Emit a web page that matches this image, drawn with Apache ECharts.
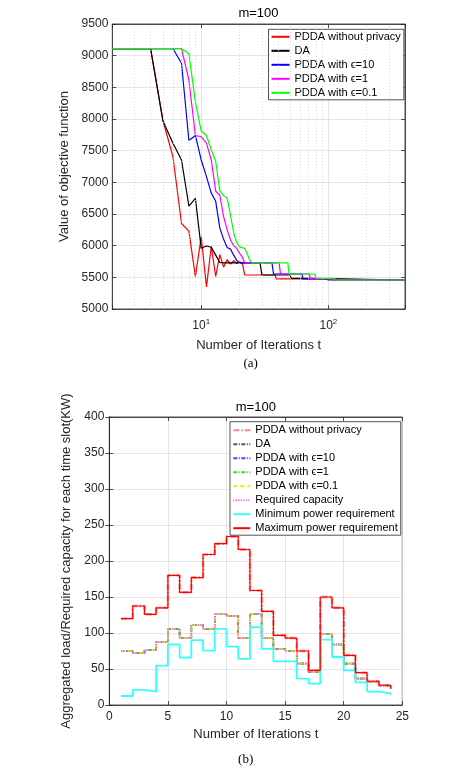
<!DOCTYPE html>
<html>
<head>
<meta charset="utf-8">
<script src="https://cdn.jsdelivr.net/npm/echarts@6/dist/echarts.min.js"></script>
<style>
html, body { margin: 0; padding: 0; background: #fff; }
#chartA { position: absolute; left: 0; top: 0; width: 470px; height: 380px; }
#chartB { position: absolute; left: 0; top: 380px; width: 470px; height: 399px; }
</style>
</head>
<body>
<div id="chartA"></div>
<div id="chartB"></div>
<script>
// ---- (a) objective value vs. iterations (log x) ----
var iterRed = [2,3,4,5,6,7,8,9,10,11,12,13,14,15,16,17,18,19,20,21,22,38,39,61,62,400];
var objRed  = [9110,9110,9110,7980,7400,6350,6230,5510,6140,5350,5990,5515,5860,5660,5780,5710,5765,5720,5740,5728,5537,5537,5475,5475,5458,5458];

var iterDA = [2,3,4,5,6,7,8,9,10,11,12,13,14,15,29,30,50,51,73,74,400];
var objDA  = [9110,9110,9110,7970,7616,7353,6626,6747,5958,5995,5975,5850,5735,5728,5728,5537,5537,5484,5484,5458,5458];

var iterEps10 = [2,3,4,5,6,7,8,9,10,11,12,13,14,15,16,17,18,19,20,36,37,62,63,95,100,400];
var objEps10  = [9110,9110,9110,9110,9110,8880,7660,7740,7353,7090,6830,6700,6280,6100,5970,5945,5850,5770,5728,5728,5553,5553,5475,5475,5458,5458];

var iterEps1 = [2,3,4,5,6,7,8,9,10,11,12,13,14,15,16,17,18,19,20,21,22,41,42,71,72,105,110,400];
var objEps1  = [9110,9110,9110,9110,9110,9110,8616,7740,7720,7620,7353,6860,6800,6460,6250,6090,6000,5958,5880,5826,5728,5728,5553,5553,5475,5475,5458,5458];

var iterEps01 = [2,3,4,5,6,7,8,9,10,11,12,13,14,15,16,17,18,19,20,21,22,23,24,25,48,49,78,80,110,115,400];
var objEps01  = [9110,9110,9110,9110,9110,9110,9030,8270,7810,7740,7510,7330,6870,6790,6750,6480,6200,6050,5984,5970,5958,5870,5780,5728,5728,5553,5553,5484,5484,5458,5458];

var minorTicksA = [3,4,5,6,7,8,9,20,30,40,50,60,70,80,90,200,300];

// ---- (b) load per time slot ----
var slots = [1,2,3,4,5,6,7,8,9,10,11,12,13,14,15,16,17,18,19,20,21,22,23,24];
var noPrivacyLoad = [120,137.5,126,135,180,156.5,177,209,224,234,216,159,130,96.8,93,75,48,150,135,69,45,33,27.4,22.7];
var aggLoad  = [75,72,76,87.5,105.6,93,111,105.6,126.5,123.6,93,126.5,93,78,75,57.4,46,99,84,57.4,36.6,31.5,27,22.7];
var minPower = [12.5,21,18.5,54.7,84,66,90,75.5,105.6,81,64,108,78,60.7,60.7,36.6,29.7,90.8,66.7,48,31.5,18.6,16,13.5];
var maxPower = [120,137.5,126,135,180,156.5,177,209,224,234,216,159,130,96.8,93,75,48,150,135,69,45,33,27.4,22.7];

var font = '"Liberation Sans", Arial, sans-serif';
var ink = '#262626';
var gridColor = '#dedede';

function pairs(xs, ys) {
    return xs.map(function (x, i) { return [x, ys[i]]; });
}

function plain(v) { return String(v); }

function txt(text, x, y, size, family) {
    return {
        type: 'text', x: x, y: y, silent: true,
        style: {
            text: text, font: size + 'px ' + family, fill: '#000',
            textAlign: 'center', textVerticalAlign: 'middle',
            align: 'center', verticalAlign: 'middle'
        }
    };
}

function frameAxes(base, isX) {
    // mirrored axis on the opposite side, ticks only
    return Object.assign({}, base, {
        position: isX ? 'top' : 'right',
        name: '',
        axisLabel: { show: false },
        splitLine: { show: false }
    });
}

function line(name, data, color, width, dash) {
    return {
        name: name, type: 'line', data: data,
        symbol: 'none', showSymbol: false,
        lineStyle: { color: color, width: width, type: dash || 'solid' },
        itemStyle: { color: 'rgba(0,0,0,0)', borderWidth: 0 },
        emphasis: { disabled: true }
    };
}

function legendBox(left, top, pad, iw, names) {
    return {
        orient: 'vertical', left: left, top: top,
        padding: pad, itemGap: 2, itemWidth: iw, itemHeight: 8,
        backgroundColor: '#fff', borderColor: ink, borderWidth: 0.8, borderRadius: 0,
        selectedMode: false,
        itemStyle: { color: 'rgba(0,0,0,0)', borderWidth: 0, opacity: 0 },
        textStyle: { color: '#000', fontSize: 11, lineHeight: 12, fontFamily: font },
        data: names
    };
}

// ================= chart (a) =================
var chartA = echarts.init(document.getElementById('chartA'));

var xA = {
    type: 'log', logBase: 10, min: 2, max: 400,
    axisLine: { onZero: false, lineStyle: { color: ink, width: 0.8 } },
    axisTick: { inside: true, length: 4, lineStyle: { color: ink, width: 0.8 } },
    axisLabel: {
        color: ink, fontSize: 12, lineHeight: 16, margin: 9, fontFamily: font,
        formatter: function (v) {
            var e = Math.log(v) / Math.LN10;
            if (Math.abs(e - Math.round(e)) < 1e-6) return '10{s|' + Math.round(e) + '}';
            return '';
        },
        rich: { s: { fontSize: 8, lineHeight: 8, verticalAlign: 'top', color: ink, fontFamily: font } }
    },
    splitLine: { show: true, lineStyle: { color: gridColor, width: 0.8 } },
    name: 'Number of Iterations t', nameLocation: 'middle', nameGap: 26,
    nameTextStyle: { color: ink, fontSize: 13, fontFamily: font }
};
var yA = {
    type: 'value', min: 5000, max: 9500, interval: 500,
    axisLine: { show: true, lineStyle: { color: ink, width: 0.8 } },
    axisTick: { show: true, inside: true, length: 4, lineStyle: { color: ink, width: 0.8 } },
    axisLabel: { color: ink, fontSize: 12, margin: 4, fontFamily: font, formatter: plain },
    splitLine: { show: true, lineStyle: { color: gridColor, width: 0.8 } },
    name: 'Value of objective function', nameLocation: 'middle', nameGap: 34,
    nameTextStyle: { color: ink, fontSize: 13, fontFamily: font }
};

var seriesA = [
    line('PDDA without privacy', pairs(iterRed, objRed), '#ff0000', 1.2),
    line('DA', pairs(iterDA, objDA), '#000000', 1.2),
    line('PDDA with \u03f5=10', pairs(iterEps10, objEps10), '#0000ff', 1.2),
    line('PDDA with \u03f5=1', pairs(iterEps1, objEps1), '#ff00ff', 1.2),
    line('PDDA with \u03f5=0.1', pairs(iterEps01, objEps01), '#00ff00', 1.2)
];
seriesA[0].markLine = {
    silent: true, symbol: 'none', animation: false,
    label: { show: false },
    lineStyle: { color: '#cfcfcf', width: 0.8, type: [1, 2] },
    data: minorTicksA.map(function (v) { return { xAxis: v }; })
};

chartA.setOption({
    animation: false,
    textStyle: { fontFamily: font },
    grid: {
        left: 112.3, top: 24, width: 292.7, height: 285,
        show: true, borderColor: ink, borderWidth: 0.8, backgroundColor: '#fff'
    },
    xAxis: [xA, frameAxes(xA, true)],
    yAxis: [yA, frameAxes(yA, false)],
    legend: legendBox(268.5, 29.3, [1.5, 3, 1, 2], 18, seriesA.map(function (s) { return s.name; })),
    graphic: [
        txt('m=100', 258.5, 13.5, 13, font),
        txt('(a)', 250.7, 364, 13, '"Liberation Serif", "DejaVu Serif", serif')
    ],
    series: seriesA
});

// ================= chart (b) =================
var chartB = echarts.init(document.getElementById('chartB'));

var xB = {
    type: 'value', min: 0, max: 25, interval: 5,
    axisLine: { onZero: false, lineStyle: { color: ink, width: 0.8 } },
    axisTick: { inside: true, length: 4, lineStyle: { color: ink, width: 0.8 } },
    axisLabel: { color: ink, fontSize: 12, margin: 6, fontFamily: font, formatter: plain },
    splitLine: { show: true, lineStyle: { color: gridColor, width: 0.8 } },
    name: 'Number of Iterations t', nameLocation: 'middle', nameGap: 21,
    nameTextStyle: { color: ink, fontSize: 13, fontFamily: font }
};
var yB = {
    type: 'value', min: 0, max: 400, interval: 50,
    axisLine: { show: true, lineStyle: { color: ink, width: 0.8 } },
    axisTick: { show: true, inside: true, length: 4, lineStyle: { color: ink, width: 0.8 } },
    axisLabel: { color: ink, fontSize: 12, margin: 5, fontFamily: font, formatter: plain },
    splitLine: { show: true, lineStyle: { color: gridColor, width: 0.8 } },
    name: 'Aggregated load/Required capacity for each time slot(KW)',
    nameLocation: 'middle', nameGap: 28,
    nameTextStyle: { color: ink, fontSize: 13, fontFamily: font }
};

function stair(name, ys, color, width, dash) {
    var s = line(name, pairs(slots, ys), color, width, dash);
    s.step = 'end';
    return s;
}

var seriesB = [
    stair('PDDA without privacy', noPrivacyLoad, '#ff8080', 2.4, [6, 2, 1.5, 2]),
    stair('DA', aggLoad, '#555555', 1.6, [4, 1.5, 1, 1.5]),
    stair('PDDA with \u03f5=10', aggLoad, '#4848ff', 1.6, [4, 1.5, 1, 1.5]),
    stair('PDDA with \u03f5=1', aggLoad, '#33dd33', 1.6, [4, 1.5, 1, 1.5]),
    stair('PDDA with \u03f5=0.1', aggLoad, '#ffe600', 1.6, [4, 3]),
    stair('Required capacity', aggLoad, '#ff55ff', 1.6, [1, 1.5]),
    stair('Minimum power requirement', minPower, '#33ffff', 1.8),
    stair('Maximum power requirement', maxPower, '#ff0000', 1.2)
];

chartB.setOption({
    animation: false,
    textStyle: { fontFamily: font },
    grid: {
        left: 109.3, top: 37, width: 293, height: 288,
        show: true, borderColor: ink, borderWidth: 0.8, backgroundColor: '#fff'
    },
    xAxis: [xB, frameAxes(xB, true)],
    yAxis: [yB, frameAxes(yB, false)],
    legend: legendBox(230, 41.7, [2.5, 3, 1, 2.3], 17, seriesB.map(function (s) { return s.name; })),
    graphic: [
        txt('m=100', 255.8, 27, 13, font),
        txt('(b)', 245.7, 380, 13, '"Liberation Serif", "DejaVu Serif", serif')
    ],
    series: seriesB
});
</script>
</body>
</html>
